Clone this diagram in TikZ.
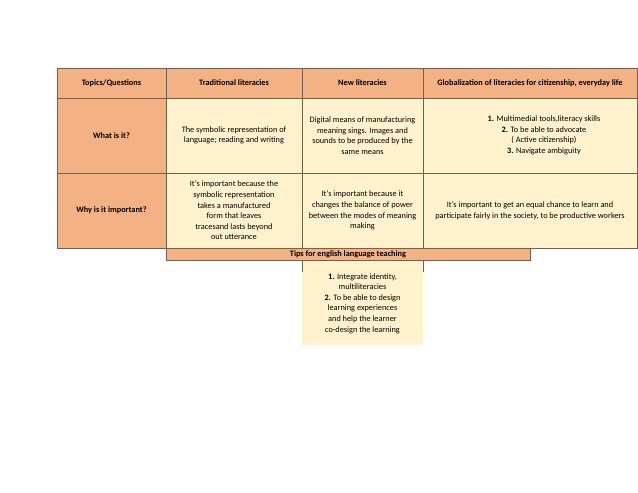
\documentclass[tikz,border=0pt]{standalone}
\usepackage{fontspec}
\setmainfont{Carlito}
\definecolor{org}{HTML}{F4B183}
\definecolor{yel}{HTML}{FFF2CC}
\definecolor{ln}{HTML}{6E6250}
\begin{document}
\begin{tikzpicture}[x=1pt,y=-1pt,
  cell/.style={draw=ln,line width=0.6pt},
  txt/.style={align=center,font=\fontsize{8.3}{10.6}\selectfont,inner sep=0pt},
  hd/.style={txt,font=\fontsize{8.3}{10.6}\selectfont\bfseries}]
\useasboundingbox (0,0) rectangle (638,493);
% fills
\fill[org] (57,68) rectangle (637,98);
\fill[org] (57,98) rectangle (166,248);
\fill[yel] (166,98) rectangle (637,248);
\fill[org] (166,248) rectangle (530,260);
\fill[yel] (302,260) rectangle (423,345);
% grid
\draw[cell] (57,68) rectangle (637,248);
\draw[cell] (57,98) -- (637,98);
\draw[cell] (57,173) -- (637,173);
\foreach \x in {166,302,423} \draw[cell] (\x,68) -- (\x,248);
\draw[cell] (166,248) rectangle (530,260);
\draw[cell] (302,260) -- (302,272);
\draw[cell] (423,260) -- (423,272);
% header
\node[hd] (h1) at (111.5,83) {Topics/Questions};
\node[hd] (h2) at (234,83) {Traditional literacies};
\node[hd] (h3) at (362.5,83) {New literacies};
\node[hd] (h4) at (530,83) {Globalization of literacies for citizenship, everyday life};
% row 1
\node[hd] (r1) at (111.5,135.5) {What is it?};
\node[txt] (c12) at (234,135.5) {The symbolic representation of\\language; reading and writing};
\node[txt] (c13) at (362.5,135.5) {Digital means of manufacturing\\meaning sings. Images and\\sounds to be produced by the\\same means};
\node[txt] (c14) at (544,135.5) {\textbf{1.} Multimedial tools,literacy skills\\\textbf{2.} To be able to advocate\\( Active citizenship)\\\textbf{3.} Navigate ambiguity};
% row 2
\node[hd] (r2) at (111.5,210.5) {Why is it important?};
\node[txt] (c22) at (234,210.5) {It's important because the\\symbolic representation\\takes a manufactured\\form that leaves\\tracesand lasts beyond\\out utterance};
\node[txt] (c23) at (362.5,210.5) {It's important because it\\changes the balance of power\\between the modes of meaning\\making};
\node[txt] (c24) at (530,210.5) {It's important to get an equal chance to learn and\\participate fairly in the society, to be productive workers};
% tips
\node[hd] (tips) at (348,254) {Tips for english language teaching};
\node[txt] (tb) at (362.5,303.5) {\textbf{1.} Integrate identity,\\multiliteracies\\\textbf{2.} To be able to design\\learning experiences\\and help the learner\\co-design the learning};
\end{tikzpicture}
\end{document}
